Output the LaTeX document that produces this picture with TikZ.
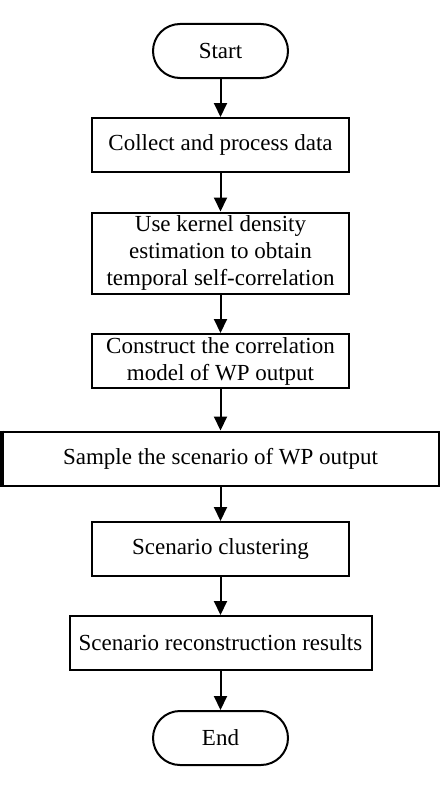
\documentclass[tikz,border=0pt]{standalone}
\usepackage{fontspec}
\setmainfont{Liberation Serif}
\usetikzlibrary{arrows.meta}
\begin{document}
\begin{tikzpicture}[x=1pt,y=-1pt,
  base/.style={draw, line width=2pt, inner sep=0pt, align=center,
    font=\fontsize{23}{27}\selectfont, minimum height=54pt},
  procbox/.style={base, rectangle, minimum width=257pt},
  term/.style={base, rectangle, rounded corners=27pt, minimum width=135pt},
  arr/.style={line width=2pt, -{Triangle[width=13pt,length=14pt]}}]
\useasboundingbox (0,0) rectangle (442,792);
\node[term] (start) at (220.5,51) {Start};
\node[procbox] (collect) at (220.5,145) {Collect and process data};
\node[procbox, minimum height=81pt] (kde) at (220.5,253) {Use kernel density\\estimation to obtain\\temporal self-correlation};
\node[procbox] (model) at (220.5,361) {Construct the correlation\\model of WP output};
\node[procbox, minimum width=437pt] (sample) at (220.5,458.5) {Sample the scenario of WP output};
\node[procbox] (cluster) at (220.5,549) {Scenario clustering};
\node[procbox, minimum width=302pt] (recon) at (220.5,643) {Scenario reconstruction results};
\node[term] (end) at (220.5,738) {End};
\draw[line width=3.5pt] ([xshift=0.75pt]sample.north west) -- ([xshift=0.75pt]sample.south west);
\draw[arr] (start) -- (collect);
\draw[arr] (collect) -- (kde);
\draw[arr] (kde) -- (model);
\draw[arr] (model) -- (sample);
\draw[arr] (sample) -- (cluster);
\draw[arr] (cluster) -- (recon);
\draw[arr] (recon) -- (end);
\end{tikzpicture}
\end{document}
